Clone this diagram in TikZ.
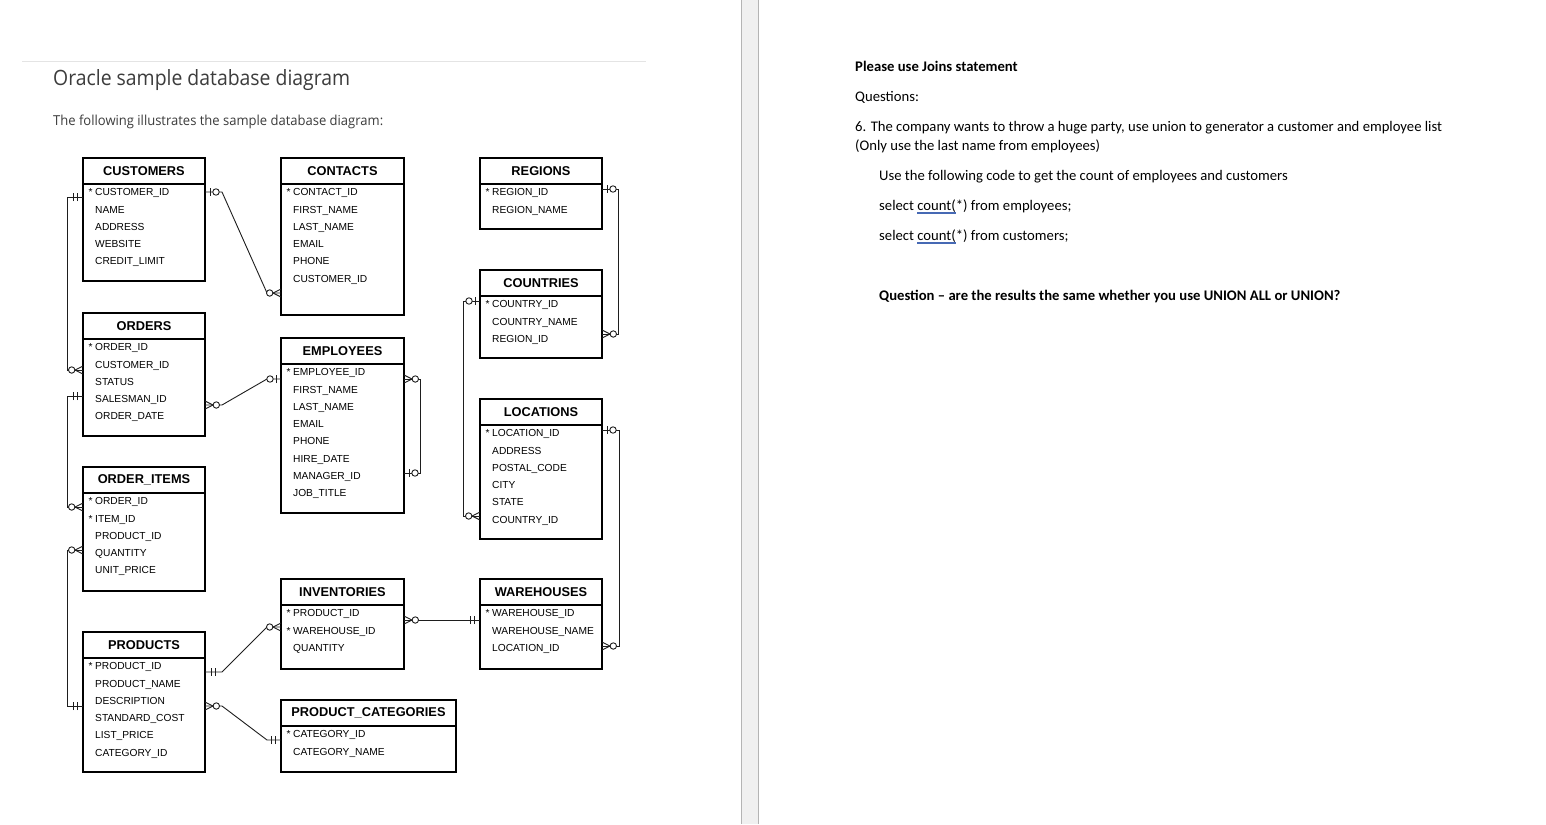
\documentclass[tikz,border=0pt]{standalone}
\usepackage{fontspec}
\setmainfont{Liberation Sans}
\newfontfamily\calibrifont{Carlito}
\newfontfamily\segoefont{Open Sans}
\usetikzlibrary{calc}
\definecolor{headgray}{RGB}{60,60,60}
\definecolor{rulegray}{RGB}{228,228,228}
\definecolor{barfill}{RGB}{240,240,240}
\definecolor{baredge}{RGB}{180,180,180}
\definecolor{ublue}{RGB}{70,105,180}
\definecolor{linecol}{RGB}{30,30,30}
\newcommand\pk{\makebox[0pt][r]{*\kern2.6pt}}
\newlength\ulw
\newcommand\dblu[1]{\settowidth\ulw{#1}\makebox[0pt][l]{\color{ublue}\raisebox{-2.0pt}{\rule{\ulw}{0.6pt}}}\makebox[0pt][l]{\color{ublue}\raisebox{-3.5pt}{\rule{\ulw}{0.6pt}}}#1}
\newcommand\ertable[7]{%
  \node[tbox, minimum width=#4pt, minimum height=#5pt, anchor=north west] (#1) at (#2,#3) {};
  \draw[hline] ($(#1.north west)+(0,26)$) -- ($(#1.north east)+(0,26)$);
  \node[ttitle] (#1-t) at ($(#1.north)+(0,13)$) {#6};
  \foreach \r [count=\i from 0] in {#7} {
    \node[trow] (#1-\i) at ($(#1.north west)+(12,37.8+17.25*\i)$) {\r};
  }
}
\begin{document}
\begin{tikzpicture}[x=1pt,y=-1pt,
  tbox/.style={draw=black, line width=1.8pt, inner sep=0pt, outer sep=0pt},
  hline/.style={draw=black, line width=1.3pt},
  ttitle/.style={inner sep=0pt, font=\fontsize{12.8}{14}\selectfont\bfseries},
  trow/.style={anchor=base west, inner sep=0pt, font=\fontsize{10.2}{12}\selectfont},
  conn/.style={draw=linecol, line width=0.9pt},
  sym/.style={draw=linecol, line width=0.9pt},
  rtext/.style={anchor=base west, inner sep=0pt, font=\calibrifont\fontsize{14.67}{17}\selectfont},
  zeroone/.pic={\draw[sym] (5,-4) -- (5,4); \draw[sym, fill=white] (11,0) circle[radius=3.2pt];},
  zeromany/.pic={\draw[sym] (0,-4) -- (8,0) -- (0,4); \draw[sym, fill=white] (11.3,0) circle[radius=3.2pt];},
  oneone/.pic={\draw[sym] (6,-4) -- (6,4); \draw[sym] (10,-4) -- (10,4);}
]
\useasboundingbox (0,0) rectangle (1546,824);
\fill[white] (0,0) rectangle (1546,824);

% scroll bar / page gap
\fill[barfill] (741,0) rectangle (759,824);
\draw[baredge, line width=1pt] (741.5,0) -- (741.5,824);
\draw[baredge, line width=1pt] (758.5,0) -- (758.5,824);

% page heading
\draw[rulegray, line width=1.2pt] (22,61.5) -- (646,61.5);
\node[anchor=base west, inner sep=0pt, text=headgray] (title) at (53,85)
  {\resizebox{297pt}{16pt}{\segoefont Oracle sample database diagram}};
\node[anchor=base west, inner sep=0pt, text=headgray] (subtitle) at (53,125.5)
  {\resizebox{330pt}{10.5pt}{\segoefont The following illustrates the sample database diagram:}};

% tables
\ertable{customers}{83}{158}{122}{123}{CUSTOMERS}{\pk CUSTOMER\_ID,NAME,ADDRESS,WEBSITE,CREDIT\_LIMIT}
\ertable{contacts}{281}{158}{123}{157}{CONTACTS}{\pk CONTACT\_ID,FIRST\_NAME,LAST\_NAME,EMAIL,PHONE,CUSTOMER\_ID}
\ertable{regions}{480}{158}{122}{71}{REGIONS}{\pk REGION\_ID,REGION\_NAME}
\ertable{countries}{480}{270}{122}{88}{COUNTRIES}{\pk COUNTRY\_ID,COUNTRY\_NAME,REGION\_ID}
\ertable{orders}{83}{313}{122}{123}{ORDERS}{\pk ORDER\_ID,CUSTOMER\_ID,STATUS,SALESMAN\_ID,ORDER\_DATE}
\ertable{employees}{281}{338}{123}{175}{EMPLOYEES}{\pk EMPLOYEE\_ID,FIRST\_NAME,LAST\_NAME,EMAIL,PHONE,HIRE\_DATE,MANAGER\_ID,JOB\_TITLE}
\ertable{locations}{480}{399}{122}{140}{LOCATIONS}{\pk LOCATION\_ID,ADDRESS,POSTAL\_CODE,CITY,STATE,COUNTRY\_ID}
\ertable{orderitems}{83}{467}{122}{124}{ORDER\_ITEMS}{\pk ORDER\_ID,\pk ITEM\_ID,PRODUCT\_ID,QUANTITY,UNIT\_PRICE}
\ertable{inventories}{281}{579}{123}{90}{INVENTORIES}{\pk PRODUCT\_ID,\pk WAREHOUSE\_ID,QUANTITY}
\ertable{warehouses}{480}{579}{122}{90}{WAREHOUSES}{\pk WAREHOUSE\_ID,WAREHOUSE\_NAME,LOCATION\_ID}
\ertable{products}{83}{632}{122}{140}{PRODUCTS}{\pk PRODUCT\_ID,PRODUCT\_NAME,DESCRIPTION,STANDARD\_COST,LIST\_PRICE,CATEGORY\_ID}
\ertable{pcats}{281}{700}{175}{72}{PRODUCT\_CATEGORIES}{\pk CATEGORY\_ID,CATEGORY\_NAME}

% connector end points
\coordinate (c1a) at ($(customers.north east)+(0,34)$);
\coordinate (c1b) at ($(contacts.north west)+(0,135)$);
\coordinate (c2a) at ($(customers.north west)+(0,39)$);
\coordinate (c2b) at ($(orders.north west)+(0,57)$);
\coordinate (c3a) at ($(orders.north west)+(0,83)$);
\coordinate (c3b) at ($(orderitems.north west)+(0,40)$);
\coordinate (c4a) at ($(orders.north east)+(0,92)$);
\coordinate (c4b) at ($(employees.north west)+(0,41)$);
\coordinate (c5a) at ($(employees.north east)+(0,41)$);
\coordinate (c5b) at ($(employees.north east)+(0,135)$);
\coordinate (c6a) at ($(regions.north east)+(0,31)$);
\coordinate (c6b) at ($(countries.north east)+(0,64)$);
\coordinate (c7a) at ($(countries.north west)+(0,31)$);
\coordinate (c7b) at ($(locations.north west)+(0,117)$);
\coordinate (c8a) at ($(locations.north east)+(0,31)$);
\coordinate (c8b) at ($(warehouses.north east)+(0,67)$);
\coordinate (c9a) at ($(inventories.north east)+(0,41)$);
\coordinate (c9b) at ($(warehouses.north west)+(0,41)$);
\coordinate (c10a) at ($(products.north east)+(0,40)$);
\coordinate (c10b) at ($(inventories.north west)+(0,48)$);
\coordinate (c11a) at ($(products.north east)+(0,74)$);
\coordinate (c11b) at ($(pcats.north west)+(0,40)$);
\coordinate (c12a) at ($(products.north west)+(0,74)$);
\coordinate (c12b) at ($(orderitems.north west)+(0,83)$);

% connectors
\draw[conn] (c1a) -- ++(17,0) -- ($(c1b)+(-14,0)$) -- (c1b);
\draw[conn] (c2a) -- ++(-16,0) |- (c2b);
\draw[conn] (c3a) -- ++(-16,0) |- (c3b);
\draw[conn] (c4a) -- ++(17,0) -- ($(c4b)+(-14,0)$) -- (c4b);
\draw[conn] (c5a) -- ++(16,0) |- (c5b);
\draw[conn] (c6a) -- ++(16,0) |- (c6b);
\draw[conn] (c7a) -- ++(-17,0) |- (c7b);
\draw[conn] (c8a) -- ++(17,0) |- (c8b);
\draw[conn] (c9a) -- (c9b);
\draw[conn] (c10a) -- ++(17,0) -- ($(c10b)+(-14,0)$) -- (c10b);
\draw[conn] (c11a) -- ++(17,0) -- ($(c11b)+(-14,0)$) -- (c11b);
\draw[conn] (c12a) -- ++(-16,0) |- (c12b);

% cardinality symbols
\pic at (c1a) {zeroone};
\pic[rotate=180] at (c1b) {zeromany};
\pic[rotate=180] at (c2a) {oneone};
\pic[rotate=180] at (c2b) {zeromany};
\pic[rotate=180] at (c3a) {oneone};
\pic[rotate=180] at (c3b) {zeromany};
\pic at (c4a) {zeromany};
\pic[rotate=180] at (c4b) {zeroone};
\pic at (c5a) {zeromany};
\pic at (c5b) {zeroone};
\pic at (c6a) {zeroone};
\pic at (c6b) {zeromany};
\pic[rotate=180] at (c7a) {zeroone};
\pic[rotate=180] at (c7b) {zeromany};
\pic at (c8a) {zeroone};
\pic at (c8b) {zeromany};
\pic at (c9a) {zeromany};
\pic[rotate=180] at (c9b) {oneone};
\pic at (c10a) {oneone};
\pic[rotate=180] at (c10b) {zeromany};
\pic at (c11a) {zeromany};
\pic[rotate=180] at (c11b) {oneone};
\pic[rotate=180] at (c12a) {oneone};
\pic[rotate=180] at (c12b) {zeromany};

% right page text
\node[rtext, font=\calibrifont\bfseries\fontsize{14.67}{17}\selectfont] (q0) at (855,71.5) {Please use Joins statement};
\node[rtext] (q1) at (855,101.5) {Questions:};
\node[rtext] (q2) at (855,131.5) {6. The company wants to throw a huge party, use union to generator a customer and employee list};
\node[rtext] (q3) at (855,150.5) {(Only use the last name from employees)};
\node[rtext] (q4) at (879,180.5) {Use the following code to get the count of employees and customers};
\node[rtext] (q5) at (879,210.5) {select \dblu{count(}*) from employees;};
\node[rtext] (q6) at (879,240.5) {select \dblu{count(}*) from customers;};
\node[rtext, font=\calibrifont\bfseries\fontsize{14.67}{17}\selectfont] (q7) at (879,300.5) {Question – are the results the same whether you use UNION ALL or UNION?};
\end{tikzpicture}
\end{document}
